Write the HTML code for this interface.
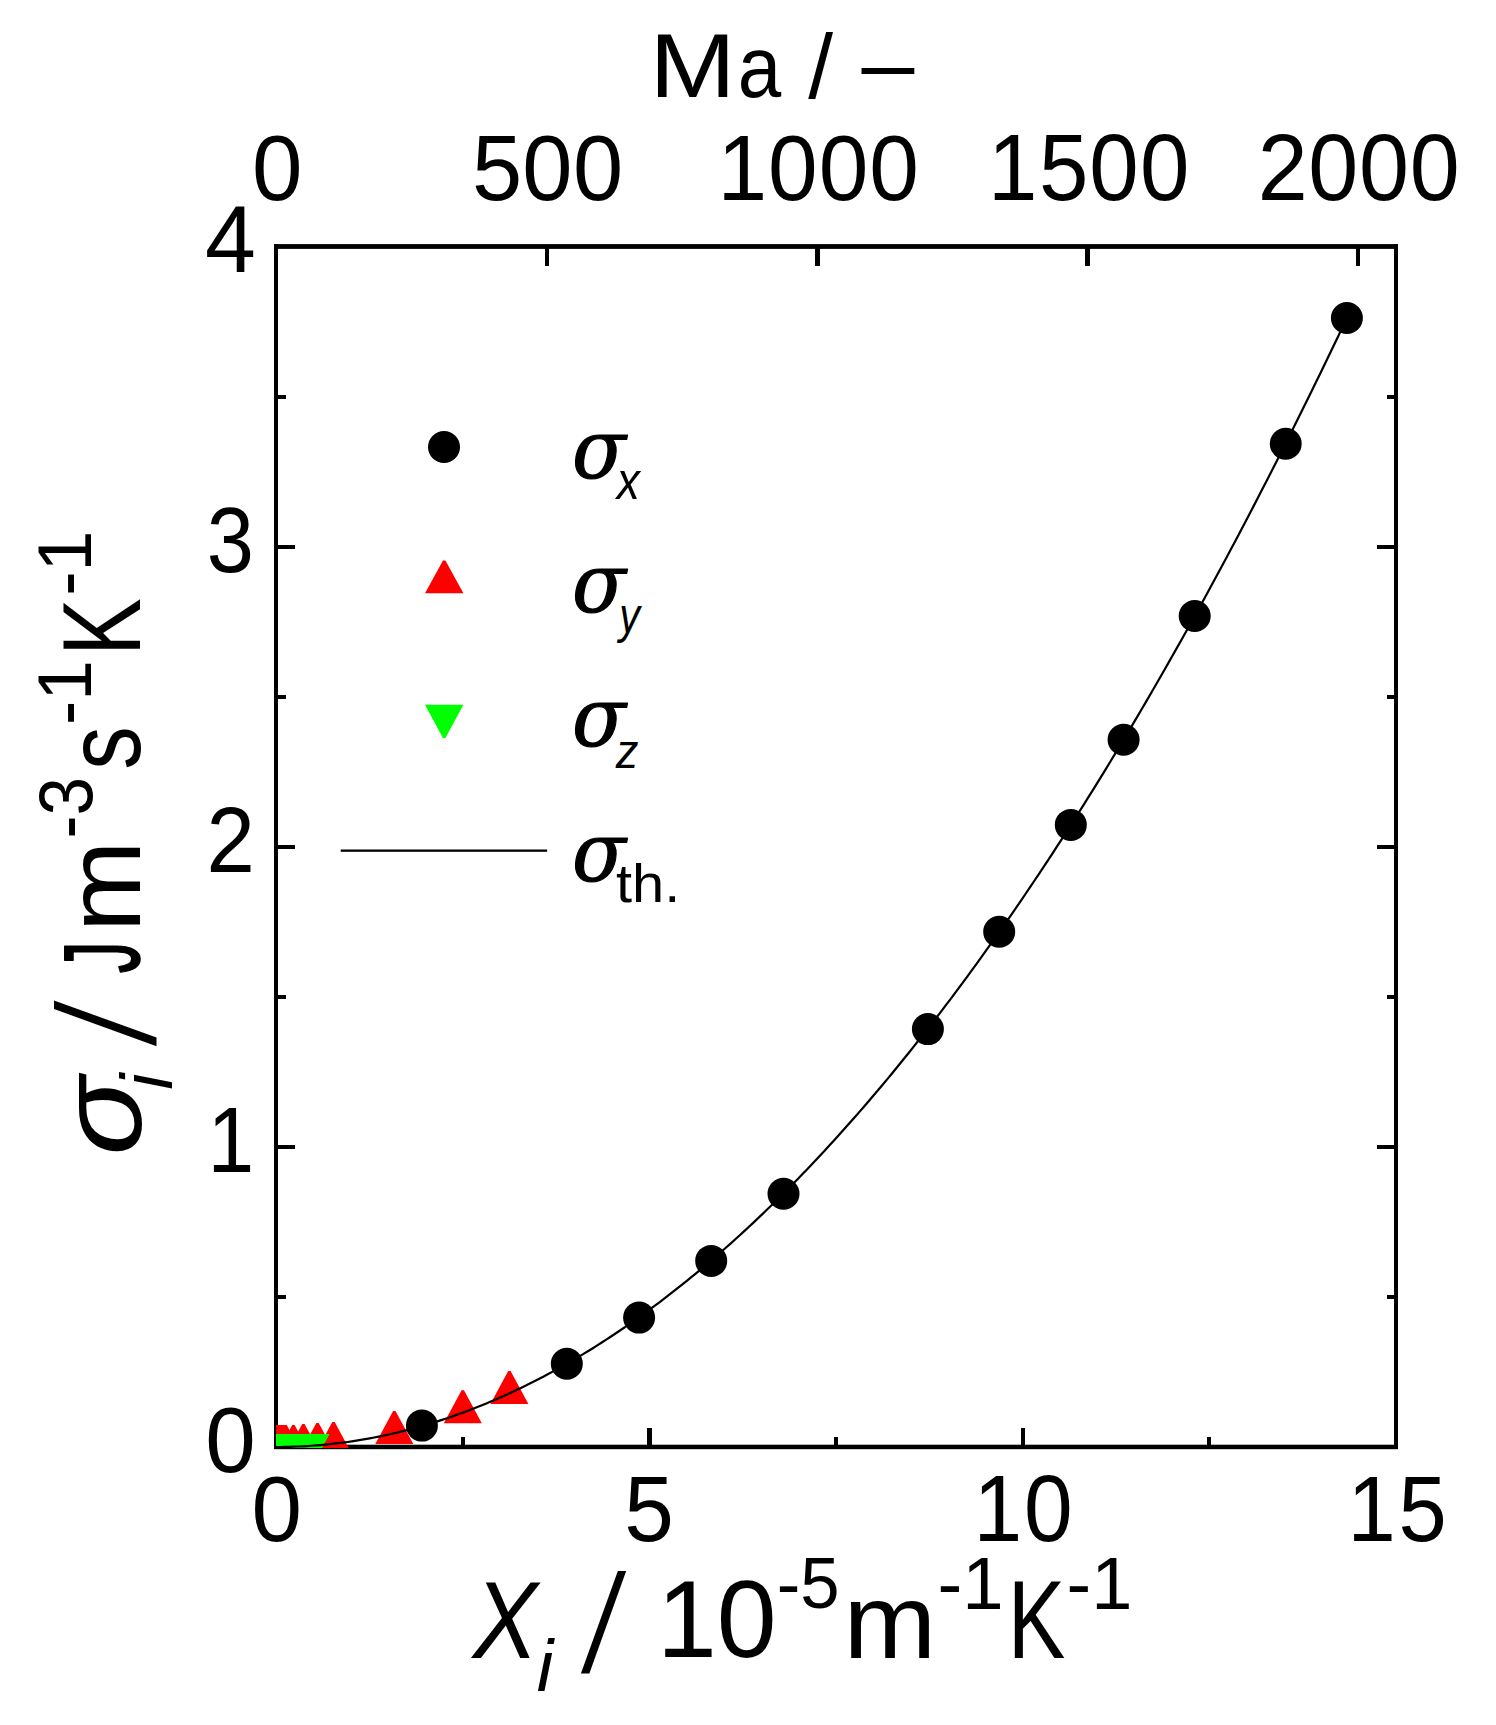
<!DOCTYPE html>
<html lang="en"><head><meta charset="utf-8"><title>Entropy production vs thermodynamic force</title>
<style>html,body{margin:0;padding:0;background:#fff}svg{display:block}text{font-size:100px;font-kerning:none;font-variant-ligatures:none;white-space:pre}</style>
</head><body>
<svg width="1496" height="1725" viewBox="0 0 1496 1725">
<rect width="1496" height="1725" fill="#fff"/>
<g fill="#000" shape-rendering="crispEdges">
<rect x="274" y="244" width="4" height="1205"/>
<rect x="1394" y="244" width="4" height="1205"/>
</g><g fill="#000">
<rect x="274" y="244.1" width="1124" height="4.8"/>
<rect x="274" y="1444.7" width="1124" height="4.5"/>
</g>
<g fill="#000" shape-rendering="crispEdges">
<rect x="647" y="1428" width="5" height="19"/>
<rect x="1021" y="1428" width="4" height="19"/>
<rect x="461" y="1437" width="4" height="10"/>
<rect x="834" y="1437" width="4" height="10"/>
<rect x="1207" y="1437" width="4" height="10"/>
<rect x="545" y="246" width="4" height="20"/>
<rect x="815" y="246" width="5" height="20"/>
<rect x="1085" y="246" width="5" height="20"/>
<rect x="1356" y="246" width="4" height="20"/>
<rect x="276" y="1145" width="19" height="4"/>
<rect x="1377" y="1145" width="19" height="4"/>
<rect x="276" y="845" width="19" height="4"/>
<rect x="1377" y="845" width="19" height="4"/>
<rect x="276" y="545" width="19" height="4"/>
<rect x="1377" y="545" width="19" height="4"/>
<rect x="276" y="1295" width="10" height="4"/>
<rect x="1387" y="1295" width="9" height="4"/>
<rect x="276" y="995" width="10" height="4"/>
<rect x="1387" y="995" width="9" height="4"/>
<rect x="276" y="695" width="10" height="4"/>
<rect x="1387" y="695" width="9" height="4"/>
<rect x="276" y="395" width="10" height="4"/>
<rect x="1387" y="395" width="9" height="4"/>
</g>
<defs><clipPath id="pc"><rect x="276" y="246" width="1120" height="1202"/></clipPath></defs>
<g clip-path="url(#pc)">
<g fill="#000">
<circle cx="421.9" cy="1425.6" r="16"/>
<circle cx="566.8" cy="1363.8" r="16"/>
<circle cx="639.1" cy="1317.6" r="16"/>
<circle cx="711.2" cy="1260.9" r="16"/>
<circle cx="783.5" cy="1193.8" r="16"/>
<circle cx="927.9" cy="1029.1" r="16"/>
<circle cx="999.2" cy="931.8" r="16"/>
<circle cx="1070.8" cy="824.9" r="16"/>
<circle cx="1123.6" cy="739.7" r="16"/>
<circle cx="1194.7" cy="616" r="16"/>
<circle cx="1285.7" cy="443.8" r="16"/>
<circle cx="1346.9" cy="318" r="16"/>
</g>
<path fill="#f00" d="M275.8 1425L278.2 1425L296 1458L258 1458ZM278 1425L280.4 1425L298.2 1458L260.2 1458ZM280.2 1425L282.6 1425L300.4 1458L262.4 1458ZM282.4 1425L284.8 1425L302.6 1458L264.6 1458ZM284.4 1425L286.8 1425L304.6 1458L266.6 1458ZM292.2 1425L294.6 1425L312.4 1458L274.4 1458ZM302.2 1424L304.6 1424L322.4 1457L284.4 1457ZM316.3 1423L318.7 1423L336.5 1456L298.5 1456ZM332.3 1422L334.7 1422L352.5 1455L314.5 1455ZM393.1 1411L395.5 1411L413.3 1444L375.3 1444ZM461.6 1390.3L464 1390.3L481.8 1423.3L443.8 1423.3ZM508.2 1371L510.6 1371L528.4 1404L490.4 1404ZM276 1425H286.3V1432H276Z"/>
<path fill="#0f0" d="M257.5 1435.1L295.5 1435.1L277.7 1468.1L275.3 1468.1ZM264 1434.6L302 1434.6L284.2 1467.6L281.8 1467.6ZM271 1434.1L309 1434.1L291.2 1467.1L288.8 1467.1ZM279 1434.1L317 1434.1L299.2 1467.1L296.8 1467.1ZM286 1434.1L324 1434.1L306.2 1467.1L303.8 1467.1ZM291.6 1434.1L329.6 1434.1L311.8 1467.1L309.4 1467.1Z"/>
<path fill="none" stroke="#000" stroke-width="2.2" d="M276 1447L280.46 1446.98L284.92 1446.92L289.39 1446.82L293.85 1446.69L298.31 1446.51L302.77 1446.29L307.23 1446.04L311.7 1445.75L316.16 1445.41L320.62 1445.04L325.08 1444.63L329.55 1444.18L334.01 1443.69L338.47 1443.16L342.93 1442.59L347.39 1441.98L351.86 1441.34L356.32 1440.65L360.78 1439.92L365.24 1439.16L369.7 1438.36L374.17 1437.51L378.63 1436.63L383.09 1435.71L387.55 1434.75L392.01 1433.75L396.48 1432.71L400.94 1431.63L405.4 1430.51L409.86 1429.36L414.32 1428.16L418.79 1426.93L423.25 1425.65L427.71 1424.34L432.17 1422.99L436.63 1421.6L441.1 1420.16L445.56 1418.69L450.02 1417.19L454.48 1415.64L458.95 1414.05L463.41 1412.42L467.87 1410.76L472.33 1409.05L476.79 1407.31L481.26 1405.52L485.72 1403.7L490.18 1401.84L494.64 1399.94L499.1 1397.99L503.57 1396.02L508.03 1394L512.49 1391.94L516.95 1389.84L521.41 1387.7L525.88 1385.53L530.34 1383.31L534.8 1381.06L539.26 1378.77L543.73 1376.43L548.19 1374.06L552.65 1371.65L557.11 1369.2L561.57 1366.71L566.04 1364.18L570.5 1361.61L574.96 1359.01L579.42 1356.36L583.88 1353.67L588.35 1350.95L592.81 1348.19L597.27 1345.38L601.73 1342.54L606.19 1339.66L610.66 1336.74L615.12 1333.78L619.58 1330.78L624.04 1327.74L628.5 1324.66L632.97 1321.55L637.43 1318.39L641.89 1315.2L646.35 1311.96L650.82 1308.69L655.28 1305.38L659.74 1302.02L664.2 1298.63L668.66 1295.2L673.13 1291.73L677.59 1288.22L682.05 1284.68L686.51 1281.09L690.97 1277.46L695.44 1273.8L699.9 1270.09L704.36 1266.35L708.82 1262.56L713.28 1258.74L717.75 1254.88L722.21 1250.98L726.67 1247.04L731.13 1243.06L735.59 1239.04L740.06 1234.98L744.52 1230.89L748.98 1226.75L753.44 1222.58L757.9 1218.36L762.37 1214.11L766.83 1209.82L771.29 1205.48L775.75 1201.11L780.22 1196.7L784.68 1192.25L789.14 1187.76L793.6 1183.23L798.06 1178.67L802.53 1174.06L806.99 1169.42L811.45 1164.73L815.91 1160.01L820.37 1155.24L824.84 1150.44L829.3 1145.6L833.76 1140.72L838.22 1135.8L842.68 1130.84L847.15 1125.84L851.61 1120.8L856.07 1115.73L860.53 1110.61L865 1105.45L869.46 1100.26L873.92 1095.03L878.38 1089.75L882.84 1084.44L887.31 1079.09L891.77 1073.7L896.23 1068.27L900.69 1062.8L905.15 1057.29L909.62 1051.74L914.08 1046.16L918.54 1040.53L923 1034.87L927.46 1029.16L931.93 1023.42L936.39 1017.64L940.85 1011.81L945.31 1005.95L949.77 1000.05L954.24 994.11L958.7 988.14L963.16 982.12L967.62 976.06L972.09 969.96L976.55 963.83L981.01 957.65L985.47 951.44L989.93 945.19L994.4 938.9L998.86 932.56L1003.32 926.19L1007.78 919.78L1012.24 913.33L1016.71 906.85L1021.17 900.32L1025.63 893.75L1030.09 887.15L1034.55 880.5L1039.02 873.82L1043.48 867.09L1047.94 860.33L1052.4 853.53L1056.86 846.69L1061.33 839.81L1065.79 832.89L1070.25 825.93L1074.71 818.93L1079.18 811.89L1083.64 804.82L1088.1 797.7L1092.56 790.55L1097.02 783.35L1101.49 776.12L1105.95 768.85L1110.41 761.54L1114.87 754.19L1119.33 746.8L1123.8 739.37L1128.26 731.9L1132.72 724.39L1137.18 716.84L1141.64 709.26L1146.11 701.63L1150.57 693.97L1155.03 686.26L1159.49 678.52L1163.95 670.74L1168.42 662.92L1172.88 655.06L1177.34 647.16L1181.8 639.22L1186.26 631.24L1190.73 623.22L1195.19 615.17L1199.65 607.07L1204.11 598.94L1208.58 590.76L1213.04 582.55L1217.5 574.3L1221.96 566.01L1226.42 557.67L1230.89 549.3L1235.35 540.9L1239.81 532.45L1244.27 523.96L1248.73 515.43L1253.2 506.87L1257.66 498.26L1262.12 489.62L1266.58 480.93L1271.04 472.21L1275.51 463.45L1279.97 454.65L1284.43 445.81L1288.89 436.93L1293.36 428.01L1297.82 419.05L1302.28 410.05L1306.74 401.01L1311.2 391.94L1315.67 382.82L1320.13 373.67L1324.59 364.48L1329.05 355.24L1333.51 345.97L1337.98 336.66L1342.44 327.31L1346.9 317.92"/>
</g>
<circle cx="444" cy="447" r="16" fill="#000"/>
<path fill="#f00" d="M443 560.6L445.4 560.6L463.4 593.2L425 593.2Z"/>
<path fill="#0f0" d="M425 704.8L463.4 704.8L445.4 738L443 738Z"/>
<rect x="340.7" y="849.5" width="206.4" height="2.3" fill="#000"/>
<g>
<text transform="matrix(0.9079 0 0 0.936 0 199.9)" x="277.46" y="0" font-family="'Liberation Sans', sans-serif" fill="#000">0</text>
<text transform="matrix(0.9027 0 0 0.936 0 199.9)" x="522.98 578.66 634.83" y="0" font-family="'Liberation Sans', sans-serif" fill="#000">500</text>
<text transform="matrix(0.8921 0 0 0.936 0 199.9)" x="804.24 860.87 917.7 974.53" y="0" font-family="'Liberation Sans', sans-serif" fill="#000">1000</text>
<text transform="matrix(0.8881 0 0 0.936 0 199.9)" x="1112.51 1169.88 1226.48 1283.57" y="0" font-family="'Liberation Sans', sans-serif" fill="#000">1500</text>
<text transform="matrix(0.8986 0 0 0.936 0 199.9)" x="1399.56 1455.87 1512.29 1568.71" y="0" font-family="'Liberation Sans', sans-serif" fill="#000">2000</text>
<text transform="matrix(0.9079 0 0 0.936 0 1541.1)" x="276.91" y="0" font-family="'Liberation Sans', sans-serif" fill="#000">0</text>
<text transform="matrix(0.8922 0 0 0.936 0 1541.1)" x="699.61" y="0" font-family="'Liberation Sans', sans-serif" fill="#000">5</text>
<text transform="matrix(0.8755 0 0 0.936 0 1541.1)" x="1111.98 1169.66" y="0" font-family="'Liberation Sans', sans-serif" fill="#000">10</text>
<text transform="matrix(0.8671 0 0 0.936 0 1541.1)" x="1554.19 1612.91" y="0" font-family="'Liberation Sans', sans-serif" fill="#000">15</text>
<text transform="matrix(0.9149 0 0 0.936 0 272)" x="223.97" y="0" font-family="'Liberation Sans', sans-serif" fill="#000">4</text>
<text transform="matrix(0.8479 0 0 0.936 0 572.1)" x="243.75" y="0" font-family="'Liberation Sans', sans-serif" fill="#000">3</text>
<text transform="matrix(0.8692 0 0 0.936 0 872.2)" x="237.59" y="0" font-family="'Liberation Sans', sans-serif" fill="#000">2</text>
<text transform="matrix(0.8396 0 0 0.936 0 1172.3)" x="247.14" y="0" font-family="'Liberation Sans', sans-serif" fill="#000">1</text>
<text transform="matrix(0.9079 0 0 0.936 0 1472.4)" x="226.19" y="0" font-family="'Liberation Sans', sans-serif" fill="#000">0</text>
</g>
<text fill="#000"><tspan x="649.41" y="96.7" font-size="91.57" textLength="86.17" lengthAdjust="spacingAndGlyphs" font-family="'Liberation Sans', sans-serif">M</tspan><tspan x="737.82" y="97.12" font-size="87.77" textLength="43.48" lengthAdjust="spacingAndGlyphs" font-family="'Liberation Sans', sans-serif">a</tspan><tspan> </tspan><tspan x="808.2" y="98.12" font-size="90.28" textLength="24.8" lengthAdjust="spacingAndGlyphs" font-family="'Liberation Sans', sans-serif">/</tspan><tspan> </tspan><tspan x="861.5" y="94.05" font-size="89.69" textLength="52.85" lengthAdjust="spacingAndGlyphs" font-family="'Liberation Sans', sans-serif">–</tspan></text>
<text fill="#000"><tspan x="472.75" y="1657.5" font-size="109.74" textLength="64.91" lengthAdjust="spacingAndGlyphs" font-family="'Liberation Sans', sans-serif" font-style="italic">X</tspan><tspan x="536.8" y="1690.9" font-size="71.49" textLength="16.53" lengthAdjust="spacingAndGlyphs" font-family="'Liberation Sans', sans-serif" font-style="italic">i</tspan><tspan> </tspan><tspan x="587" y="1672.44" font-size="138.89" textLength="29.94" lengthAdjust="spacingAndGlyphs" font-family="'Liberation Sans', sans-serif" font-style="italic">/</tspan><tspan> </tspan><tspan x="657" y="1657.34" font-size="108.76" textLength="119.7" lengthAdjust="spacingAndGlyphs" font-family="'Liberation Sans', sans-serif">10</tspan><tspan x="776.66" y="1608.2" font-size="71.52" textLength="62.92" lengthAdjust="spacingAndGlyphs" font-family="'Liberation Sans', sans-serif">-5</tspan><tspan x="843.51" y="1658" font-size="105.93" textLength="92.73" lengthAdjust="spacingAndGlyphs" font-family="'Liberation Sans', sans-serif">m</tspan><tspan x="937.49" y="1608.6" font-size="74.57" textLength="66.14" lengthAdjust="spacingAndGlyphs" font-family="'Liberation Sans', sans-serif">-1</tspan><tspan x="1007.72" y="1658" font-size="110.61" textLength="57.55" lengthAdjust="spacingAndGlyphs" font-family="'Liberation Sans', sans-serif">K</tspan><tspan x="1066.61" y="1608.6" font-size="74.57" textLength="65.8" lengthAdjust="spacingAndGlyphs" font-family="'Liberation Sans', sans-serif">-1</tspan></text>
<text transform="rotate(-90)" fill="#000"><tspan x="-1155.63" y="141.46" font-size="116.34" textLength="78.55" lengthAdjust="spacingAndGlyphs" font-family="'Liberation Sans', sans-serif" font-style="italic">σ</tspan><tspan x="-1089.88" y="172.2" font-size="72.04" textLength="16.24" lengthAdjust="spacingAndGlyphs" font-family="'Liberation Sans', sans-serif" font-style="italic">i</tspan><tspan> </tspan><tspan x="-1039.96" y="154.64" font-size="139.03" textLength="30.14" lengthAdjust="spacingAndGlyphs" font-family="'Liberation Sans', sans-serif" font-style="italic">/</tspan><tspan> </tspan><tspan x="-973.2" y="139.14" font-size="108.35" textLength="31.94" lengthAdjust="spacingAndGlyphs" font-family="'Liberation Sans', sans-serif" stroke="#000" stroke-width="1.6" stroke-linejoin="round">J</tspan><tspan x="-932.22" y="140" font-size="106.3" textLength="91.78" lengthAdjust="spacingAndGlyphs" font-family="'Liberation Sans', sans-serif">m</tspan><tspan x="-838.57" y="91.66" font-size="75.42" textLength="61.4" lengthAdjust="spacingAndGlyphs" font-family="'Liberation Sans', sans-serif">-3</tspan><tspan x="-769.71" y="139.96" font-size="106.52" textLength="43.35" lengthAdjust="spacingAndGlyphs" font-family="'Liberation Sans', sans-serif">s</tspan><tspan x="-724.94" y="91.1" font-size="75.73" textLength="64.8" lengthAdjust="spacingAndGlyphs" font-family="'Liberation Sans', sans-serif">-1</tspan><tspan x="-655.66" y="139.9" font-size="110.61" textLength="57.43" lengthAdjust="spacingAndGlyphs" font-family="'Liberation Sans', sans-serif">K</tspan><tspan x="-595.87" y="91.1" font-size="75.73" textLength="65.35" lengthAdjust="spacingAndGlyphs" font-family="'Liberation Sans', sans-serif">-1</tspan></text>
<text fill="#000"><tspan x="572.08" y="477.64" font-size="81.77" textLength="53.81" lengthAdjust="spacingAndGlyphs" font-family="'DejaVu Serif', 'Liberation Serif', serif" font-style="italic" stroke="#000" stroke-width="1.2" stroke-linejoin="round">σ</tspan><tspan x="616.65" y="499.4" font-size="52.81" textLength="23.1" lengthAdjust="spacingAndGlyphs" font-family="'Liberation Sans', sans-serif" font-style="italic">x</tspan></text>
<text fill="#000"><tspan x="572.08" y="611.84" font-size="81.77" textLength="53.81" lengthAdjust="spacingAndGlyphs" font-family="'DejaVu Serif', 'Liberation Serif', serif" font-style="italic" stroke="#000" stroke-width="1.2" stroke-linejoin="round">σ</tspan><tspan x="619.24" y="633.45" font-size="50.83" textLength="20.68" lengthAdjust="spacingAndGlyphs" font-family="'Liberation Sans', sans-serif" font-style="italic">y</tspan></text>
<text fill="#000"><tspan x="572.08" y="746.04" font-size="81.77" textLength="53.81" lengthAdjust="spacingAndGlyphs" font-family="'DejaVu Serif', 'Liberation Serif', serif" font-style="italic" stroke="#000" stroke-width="1.2" stroke-linejoin="round">σ</tspan><tspan x="615.87" y="767.8" font-size="48.08" textLength="22.76" lengthAdjust="spacingAndGlyphs" font-family="'Liberation Sans', sans-serif" font-style="italic">z</tspan></text>
<text fill="#000"><tspan x="572.08" y="880.74" font-size="81.77" textLength="53.81" lengthAdjust="spacingAndGlyphs" font-family="'DejaVu Serif', 'Liberation Serif', serif" font-style="italic" stroke="#000" stroke-width="1.2" stroke-linejoin="round">σ</tspan><tspan x="616.03" y="901.78" font-size="53.38" textLength="64.25" lengthAdjust="spacingAndGlyphs" font-family="'Liberation Sans', sans-serif">th.</tspan></text>
</svg>
</body></html>
